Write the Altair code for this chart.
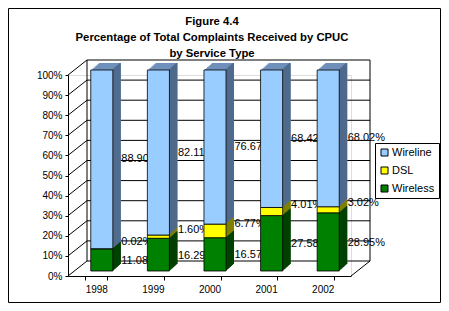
import altair as alt
import pandas as pd

# ---- data ----
years = ["1998", "1999", "2000", "2001", "2002"]
wireless = [11.08, 16.29, 16.57, 27.58, 28.95]
dsl = [0.02, 1.60, 6.77, 4.01, 3.02]
wireline = [88.90, 82.11, 76.67, 68.42, 68.02]

series_stack = ["Wireless", "DSL", "Wireline"]      # bottom -> top
legend_order = ["Wireline", "DSL", "Wireless"]
front_colors = ["#99CCFF", "#FFFF00", "#008000"]     # in legend_order
top_colors = {"Wireline": "#7090BC", "DSL": "#9A9A00", "Wireless": "#005000"}
side_colors = {"Wireline": "#4F6A8C", "DSL": "#808000", "Wireless": "#004000"}
title_lines = ["Figure 4.4", "Percentage of Total Complaints Received by CPUC", "by Service Type"]

rows = []
for i, yr in enumerate(years):
    base = 0.0
    for s, vals in zip(series_stack, [wireless, dsl, wireline]):
        v = vals[i]
        rows.append(dict(year=yr, series=s, y0=base, y1=base + v,
                         mid=base + v / 2, label=f"{v:.2f}%",
                         top=top_colors[s], side=side_colors[s]))
        base += v
df = pd.DataFrame(rows)

grid_df = pd.DataFrame({"v": list(range(0, 101, 10))})
edge_df = pd.DataFrame({"a": [0], "b": [100]})

F = "Liberation Sans"
W, H = 283, 201
DX, DY = 5.5, -5          # front face shift
DEPTH = 8                 # 3-D depth in px
BACK_X, BACK_Y = 19, -15  # back wall shift
LABEL_DY = {"Wireline": -5, "DSL": -12, "Wireless": -4}

yscale = alt.Scale(domain=[0, 100], nice=False, zero=True)
xscale = alt.Scale(paddingInner=0.61, paddingOuter=0.305)
XAX = alt.Axis(title=None, labelAngle=0, tickBand="extent", tickSize=4, labelPadding=4,
               domainColor="black", tickColor="black")
YAX = alt.Axis(title=None, values=list(range(0, 101, 10)), labelExpr="datum.value + '%'",
               grid=False, tickSize=3, labelPadding=3, domainColor="black", tickColor="black")

X0 = alt.X("year:N", scale=xscale, axis=XAX, sort=years)


def Yq(field):
    return alt.Y(field, scale=yscale, axis=YAX)


base = alt.Chart(df)
layers = []

# outer chart frame (four rules, at the edge of the drawing)
fr = dict(color="black", strokeWidth=1)
L, R, T, B = -59.5, 372.5, -66.5, 227.5
layers.append(alt.Chart(edge_df).mark_rule(**fr).encode(x=alt.value(L), x2=alt.value(R), y=alt.value(T)))
layers.append(alt.Chart(edge_df).mark_rule(**fr).encode(x=alt.value(L), x2=alt.value(R), y=alt.value(B)))
layers.append(alt.Chart(edge_df).mark_rule(**fr).encode(x=alt.value(L), y=alt.value(T), y2=alt.value(B)))
layers.append(alt.Chart(edge_df).mark_rule(**fr).encode(x=alt.value(R), y=alt.value(T), y2=alt.value(B)))

# title as text
layers.append(alt.Chart(edge_df).mark_text(
    text=title_lines, font=F, fontSize=11.3, fontWeight="bold", lineHeight=16,
    align="center", baseline="alphabetic", color="black").encode(
    x=alt.value(W / 2 + 2.5), y=alt.value(-50.5)))

# back wall gridlines
layers.append(alt.Chart(grid_df).mark_rule(color="black", strokeWidth=1, yOffset=BACK_Y).encode(
    y=Yq("v:Q"), x=alt.value(BACK_X), x2=alt.value(W + BACK_X)))
# left wall diagonals
layers.append(alt.Chart(grid_df).mark_rule(color="black", strokeWidth=1, y2Offset=BACK_Y).encode(
    y=Yq("v:Q"), y2="v:Q", x=alt.value(0), x2=alt.value(BACK_X)))
# back wall vertical edges and right floor diagonal
for xv in [BACK_X, W + BACK_X]:
    layers.append(alt.Chart(edge_df).mark_rule(color="black", strokeWidth=1, yOffset=BACK_Y, y2Offset=BACK_Y).encode(
        y=Yq("a:Q"), y2="b:Q", x=alt.value(xv)))
layers.append(alt.Chart(edge_df).mark_rule(color="black", strokeWidth=1, y2Offset=BACK_Y).encode(
    y=Yq("a:Q"), y2="a:Q", x=alt.value(W), x2=alt.value(W + BACK_X)))

# value labels (behind bars)
for s in series_stack:
    layers.append(base.transform_filter(alt.datum.series == s).mark_text(
        align="left", baseline="middle", dx=25, dy=LABEL_DY[s], font=F, fontSize=11, color="black").encode(
        x=X0, y=Yq("mid:Q"), text="label:N"))

# extruded depth copies (top colour)
for k in range(DEPTH, 0, -1):
    off = DY - 0.875 * k
    layers.append(base.mark_bar(xOffset=DX + k, yOffset=off, y2Offset=off).encode(
        x=X0, y=Yq("y0:Q"), y2="y1:Q", color=alt.Color("top:N", scale=None)))
# side strips (side colour)
for k in range(DEPTH, 0, -1):
    off = DY - 0.875 * k
    layers.append(base.mark_bar(width=1.6, xOffset=DX + 11 + k - 0.8, yOffset=off, y2Offset=off).encode(
        x=X0, y=Yq("y0:Q"), y2="y1:Q", color=alt.Color("side:N", scale=None)))

# front faces with legend
front = base.mark_bar(xOffset=DX, yOffset=DY, y2Offset=DY, stroke="black", strokeWidth=0.8).encode(
    x=X0,
    y=Yq("y0:Q"),
    y2="y1:Q",
    color=alt.Color("series:N", scale=alt.Scale(domain=legend_order, range=front_colors),
                    legend=alt.Legend(title=None, orient="none", legendX=307, legendY=68,
                                      strokeColor="black", fillColor="white", padding=4,
                                      symbolType="square", symbolSize=49, symbolStrokeColor="black",
                                      symbolStrokeWidth=1, labelFont=F, labelFontSize=11,
                                      labelColor="black", rowPadding=6, labelOffset=2)),
    order=alt.Order("y0:Q"))
layers.append(front)

chart = alt.layer(*layers).properties(
    width=W, height=H,
    autosize=alt.AutoSizeParams(type="none"),
    padding={"left": 60, "top": 67, "right": 90, "bottom": 27},
).configure_view(stroke=None).configure_axis(
    labelFont=F, labelFontSize=11, labelColor="black"
).configure(background="white")

chart.save("out.html", embed_options={"renderer": "svg", "actions": False})
